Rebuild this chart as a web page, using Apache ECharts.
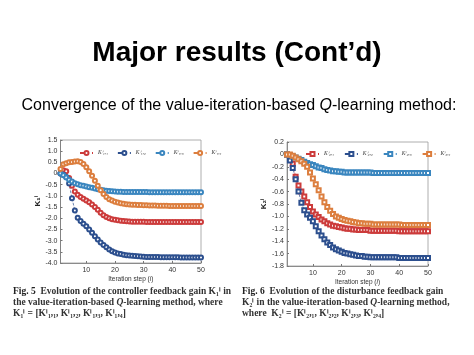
<!DOCTYPE html>
<html><head><meta charset="utf-8">
<script src="https://cdn.jsdelivr.net/npm/echarts@6/dist/echarts.min.js"></script>
<style>html,body{margin:0;padding:0;background:#fff}#c{width:474px;height:355px}</style>
</head><body><div id="c"></div><script>
// Iteration steps (x axis)
var steps = [1,2,3,4,5,6,7,8,9,10,11,12,13,14,15,16,17,18,19,20,21,22,23,24,25,26,27,28,29,30,31,32,33,34,35,36,37,38,39,40,41,42,43,44,45,46,47,48,49,50];
var xTicks = [10,20,30,40,50];
var y1Ticks = [1.5,1.0,0.5,0,-0.5,-1.0,-1.5,-2.0,-2.5,-3.0,-3.5,-4.0];
var y2Ticks = [0.2,0,-0.2,-0.4,-0.6,-0.8,-1.0,-1.2,-1.4,-1.6,-1.8];

// Fig. 5: controller feedback gain K1
var k1Names = ['Kⁱ₁,₁','Kⁱ₁,₂','Kⁱ₁,₃','Kⁱ₁,₄'];
var k11 = [0.0,0.15,0.1,-0.2,-0.55,-0.8,-0.95,-1.05,-1.13,-1.21,-1.28,-1.38,-1.5,-1.62,-1.75,-1.86,-1.94,-2.0,-2.04,-2.07,-2.09,-2.11,-2.12,-2.13,-2.14,-2.15,-2.15,-2.16,-2.16,-2.16,-2.17,-2.17,-2.17,-2.17,-2.17,-2.17,-2.17,-2.17,-2.17,-2.17,-2.17,-2.17,-2.17,-2.17,-2.17,-2.17,-2.17,-2.17,-2.17,-2.17];
var k12 = [0.0,-0.05,-0.15,-0.45,-1.1,-1.65,-1.98,-2.12,-2.25,-2.36,-2.5,-2.65,-2.8,-2.95,-3.08,-3.2,-3.3,-3.4,-3.47,-3.53,-3.57,-3.6,-3.63,-3.65,-3.67,-3.68,-3.69,-3.7,-3.71,-3.72,-3.73,-3.73,-3.73,-3.73,-3.73,-3.74,-3.74,-3.74,-3.74,-3.74,-3.74,-3.74,-3.75,-3.75,-3.75,-3.75,-3.75,-3.75,-3.75,-3.75];
var k13 = [0.0,-0.08,-0.18,-0.28,-0.36,-0.43,-0.48,-0.52,-0.55,-0.58,-0.61,-0.64,-0.67,-0.7,-0.73,-0.75,-0.77,-0.78,-0.79,-0.8,-0.81,-0.81,-0.82,-0.82,-0.82,-0.83,-0.83,-0.83,-0.83,-0.83,-0.83,-0.84,-0.84,-0.84,-0.84,-0.84,-0.84,-0.84,-0.84,-0.84,-0.84,-0.84,-0.84,-0.84,-0.84,-0.84,-0.84,-0.84,-0.84,-0.84];
var k14 = [0.2,0.42,0.46,0.5,0.52,0.54,0.55,0.52,0.43,0.28,0.1,-0.1,-0.32,-0.55,-0.75,-0.92,-1.05,-1.15,-1.21,-1.26,-1.3,-1.33,-1.35,-1.37,-1.38,-1.39,-1.4,-1.41,-1.41,-1.42,-1.42,-1.43,-1.43,-1.43,-1.44,-1.44,-1.44,-1.44,-1.45,-1.45,-1.45,-1.45,-1.45,-1.45,-1.45,-1.45,-1.45,-1.45,-1.45,-1.45];

// Fig. 6: disturbance feedback gain K2
var k2Names = ['Kⁱ₂,₁','Kⁱ₂,₂','Kⁱ₂,₃','Kⁱ₂,₄'];
var k21 = [0.0,-0.02,-0.15,-0.36,-0.5,-0.6,-0.68,-0.77,-0.85,-0.92,-0.97,-1.01,-1.05,-1.08,-1.11,-1.13,-1.15,-1.16,-1.17,-1.18,-1.19,-1.2,-1.2,-1.21,-1.21,-1.22,-1.22,-1.22,-1.22,-1.23,-1.23,-1.23,-1.23,-1.23,-1.23,-1.23,-1.23,-1.23,-1.23,-1.24,-1.24,-1.24,-1.24,-1.24,-1.24,-1.24,-1.24,-1.24,-1.24,-1.24];
var k22 = [0.0,-0.1,-0.22,-0.4,-0.6,-0.78,-0.9,-0.97,-1.02,-1.08,-1.16,-1.24,-1.31,-1.37,-1.42,-1.46,-1.5,-1.53,-1.55,-1.57,-1.59,-1.6,-1.61,-1.62,-1.63,-1.64,-1.64,-1.65,-1.65,-1.66,-1.66,-1.66,-1.66,-1.66,-1.66,-1.66,-1.66,-1.66,-1.66,-1.67,-1.67,-1.67,-1.67,-1.67,-1.67,-1.67,-1.67,-1.67,-1.67,-1.67];
var k23 = [0.0,-0.01,-0.03,-0.05,-0.07,-0.09,-0.12,-0.14,-0.16,-0.17,-0.19,-0.21,-0.22,-0.24,-0.25,-0.26,-0.27,-0.27,-0.28,-0.28,-0.29,-0.29,-0.29,-0.29,-0.29,-0.29,-0.29,-0.29,-0.29,-0.29,-0.3,-0.3,-0.3,-0.3,-0.3,-0.3,-0.3,-0.3,-0.3,-0.3,-0.3,-0.3,-0.3,-0.3,-0.3,-0.3,-0.3,-0.3,-0.3,-0.3];
var k24 = [0.0,0.0,-0.02,-0.05,-0.08,-0.11,-0.15,-0.2,-0.29,-0.39,-0.48,-0.58,-0.68,-0.77,-0.85,-0.91,-0.96,-1.0,-1.02,-1.04,-1.06,-1.07,-1.08,-1.09,-1.1,-1.11,-1.11,-1.12,-1.12,-1.12,-1.13,-1.13,-1.13,-1.13,-1.13,-1.13,-1.13,-1.13,-1.13,-1.13,-1.14,-1.14,-1.14,-1.14,-1.14,-1.14,-1.14,-1.14,-1.14,-1.14];

var colors = ['#cc3b3b','#2c4f8e','#3a86bf','#dc7e3e'];

function pairs(ys){ return steps.map(function(s,i){ return [s, ys[i]]; }); }
function mk(name, ys, g, sym, c){
  return {type:'line', name:name, xAxisIndex:g, yAxisIndex:g, data:pairs(ys),
    symbol:sym, symbolSize:4, showAllSymbol:true, showSymbol:true,
    lineStyle:{color:c, width:0.7, type:'dashed'},
    itemStyle:{color:c, borderColor:c, borderWidth:0.9},
    emphasis:{disabled:true}, z:3};
}
function xAx(g){
  return {type:'value', gridIndex:g, min:1, max:50,
    name:'{n|Iteration step (}{i|i}{n|)}', nameLocation:'middle', nameGap:13,
    nameTextStyle:{rich:{n:{fontSize:6.5,color:'#333',fontFamily:'Liberation Sans'},i:{fontSize:6.5,color:'#333',fontStyle:'italic',fontFamily:'Liberation Sans'}}},
    axisLine:{onZero:false, lineStyle:{color:'#777',width:0.8}},
    axisTick:{inside:true,length:2,customValues:xTicks,lineStyle:{color:'#777'}},
    axisLabel:{customValues:xTicks,fontSize:7,color:'#333',margin:4,fontFamily:'Liberation Sans'},
    splitLine:{show:false}};
}
// zero is written as "0" followed by a zero-width space so that it is not dropped as an empty label
function fmtY(v){ return Math.abs(v)<1e-9 ? '0\u200B' : Number(v).toFixed(1); }
function yAx(g, mn, mx, ticks, nm){
  return {type:'value', gridIndex:g, min:mn, max:mx,
    name:nm, nameLocation:'middle', nameGap:19, nameRotate:90,
    nameTextStyle:{fontSize:8,fontWeight:'bold',color:'#222',fontFamily:'Liberation Sans'},
    axisLine:{show:true,onZero:false,lineStyle:{color:'#777',width:0.8}},
    axisTick:{show:true,inside:true,length:2,customValues:ticks,lineStyle:{color:'#777'}},
    axisLabel:{customValues:ticks,fontSize:7,color:'#333',margin:3,fontFamily:'Liberation Sans',
      formatter:fmtY},
    splitLine:{show:false}};
}

var series = [
  mk(k1Names[0],k11,0,'emptyCircle',colors[0]),
  mk(k1Names[1],k12,0,'emptyCircle',colors[1]),
  mk(k1Names[2],k13,0,'emptyCircle',colors[2]),
  mk(k1Names[3],k14,0,'emptyCircle',colors[3]),
  mk(k2Names[0],k21,1,'emptyRect',colors[0]),
  mk(k2Names[1],k22,1,'emptyRect',colors[1]),
  mk(k2Names[2],k23,1,'emptyRect',colors[2]),
  mk(k2Names[3],k24,1,'emptyRect',colors[3])
];

var capFont = 'Liberation Serif';
var capSize = 9.5;
function cap(id, x, y, txt){
  return {type:'text', id:id, x:x, y:y, style:{text:txt, fontSize:capSize, fontFamily:capFont, fontWeight:'bold', fill:'#333',
    rich:{b:{fontSize:capSize,fontFamily:capFont,fontWeight:'bold',fill:'#222'},
          i:{fontSize:capSize,fontFamily:capFont,fontStyle:'italic',fontWeight:'bold',fill:'#333'}}}};
}

var graphics = [
  {type:'text', id:'title', x:237, y:53, style:{text:'Major results (Cont’d)', fontSize:28, fontWeight:'bold', fontFamily:'Liberation Sans', fill:'#000', align:'center', verticalAlign:'middle'}},
  {type:'text', id:'sub', x:239, y:106, style:{text:'{n|Convergence of the value-iteration-based }{i|Q}{n|-learning method:}', align:'center', verticalAlign:'middle',
    rich:{n:{fontSize:16,fontFamily:'Liberation Sans',fill:'#000'}, i:{fontSize:16,fontFamily:'Liberation Sans',fontStyle:'italic',fill:'#000'}}}},
  cap('c1',13, 287, '{b|Fig. 5}  Evolution of the controller feedback gain K₁ⁱ in'),
  cap('c2',13, 298, 'the value-iteration-based {i|Q}-learning method, where'),
  cap('c3',13, 309, 'K₁ⁱ = [Kⁱ₁,₁, Kⁱ₁,₂, Kⁱ₁,₃, Kⁱ₁,₄]'),
  cap('c4',242, 287, '{b|Fig. 6}  Evolution of the disturbance feedback gain'),
  cap('c5',242, 298, 'K₂ⁱ in the value-iteration-based {i|Q}-learning method,'),
  cap('c6',242, 309, 'where  K₂ⁱ = [Kⁱ₂,₁, Kⁱ₂,₂, Kⁱ₂,₃, Kⁱ₂,₄]')
];

var chart = echarts.init(document.getElementById('c'), null, {renderer:'canvas'});
chart.setOption({
  animation:false,
  backgroundColor:'#ffffff',
  grid:[
    {left:60.5, top:140, width:140.5, height:123, show:true, borderColor:'#999', borderWidth:0.8, backgroundColor:'transparent'},
    {left:287, top:142, width:141, height:124, show:true, borderColor:'#999', borderWidth:0.8, backgroundColor:'transparent'}
  ],
  xAxis:[xAx(0), xAx(1)],
  yAxis:[yAx(0,-4,1.5,y1Ticks,'K₁ⁱ'), yAx(1,-1.8,0.2,y2Ticks,'K₂ⁱ')],
  legend:[
    {data:k1Names, left:74, top:145, itemWidth:13, itemHeight:5, itemGap:9,
      textStyle:{fontSize:5.5,color:'#333',fontFamily:'Liberation Serif',fontStyle:'italic'}},
    {data:k2Names, left:300, top:146, itemWidth:13, itemHeight:5, itemGap:10,
      textStyle:{fontSize:5.5,color:'#333',fontFamily:'Liberation Serif',fontStyle:'italic'}}
  ],
  graphic:graphics,
  series:series
});
</script></body></html>
